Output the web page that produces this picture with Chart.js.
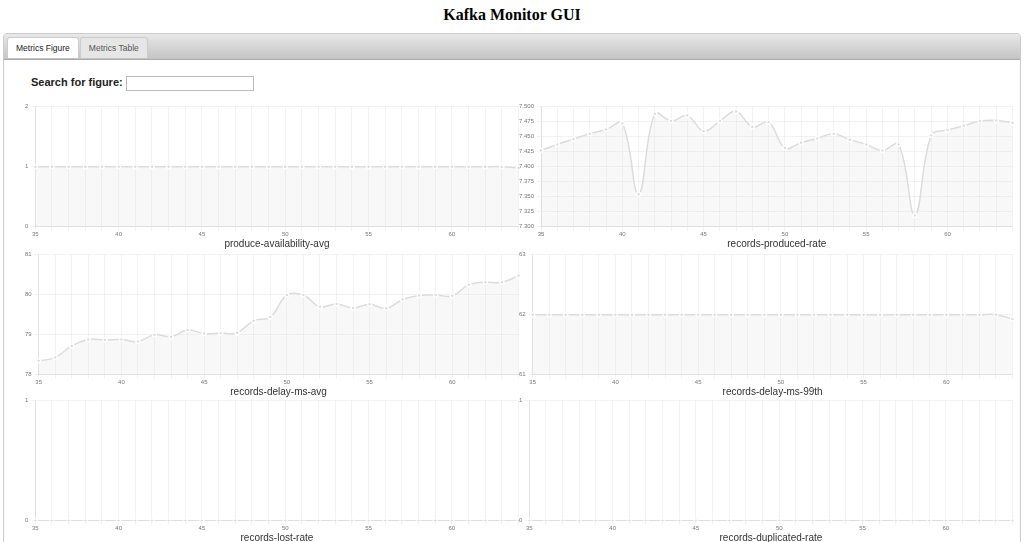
<!DOCTYPE html>
<html>
<head>
<meta charset="utf-8">
<script src="https://cdn.jsdelivr.net/npm/chart.js@4"></script>
<style>
  body { margin: 0; background: #fff; font-family: "Liberation Sans", Arial, sans-serif; }
  h1 { font-family: "Liberation Serif", serif; font-size: 16px; text-align: center; margin: 0; padding-top: 6px; height: 26px; }
  #panel { position: absolute; left: 3px; top: 33px; width: 1016px; height: 520px; border: 1px solid #ccc; border-radius: 4px; }
  #tabbar { height: 22px; background: linear-gradient(#e8e8e8, #c4c4c4); border-bottom: 1px solid #aaa; border-radius: 3px 3px 0 0; padding: 3px 0 0 3px; }
  .tab { display: inline-block; font-size: 8.5px; padding: 5px 8px 5px; margin-right: 1px; border: 1px solid #ccc; border-bottom: none; border-radius: 3px 3px 0 0; background: #e6e6e6; color: #555; }
  .tab.active { background: #fff; color: #222; }
  #search { position: absolute; left: 27px; top: 42px; font-weight: bold; font-size: 11px; color: #222; }
  #search input { width: 122px; height: 11px; border: 1px solid #bbb; vertical-align: middle; }
  .box { position: absolute; width: 502px; height: 150px; }
</style>
</head>
<body>
<h1>Kafka Monitor GUI</h1>
<div id="panel">
  <div id="tabbar"><span class="tab active">Metrics Figure</span><span class="tab">Metrics Table</span></div>
  <div id="search">Search for figure: <input type="text"></div>
</div>
<div class="box" style="left:22px;top:100px"><canvas id="c0"></canvas></div>
<div class="box" style="left:516px;top:100px"><canvas id="c1"></canvas></div>
<div class="box" style="left:22px;top:248px"><canvas id="c2"></canvas></div>
<div class="box" style="left:516px;top:248px"><canvas id="c3"></canvas></div>
<div class="box" style="left:22px;top:394px"><canvas id="c4"></canvas></div>
<div class="box" style="left:516px;top:394px"><canvas id="c5"></canvas></div>
<script>
const xLabels = [35,36,37,38,39,40,41,42,43,44,45,46,47,48,49,50,51,52,53,54,55,56,57,58,59,60,61,62,63,64];

const availability = [1,1,1,1,1,1,1,1,1,1,1,1,1,1,1,1,1,1,1,1,1,1,1,1,1,1,1,1,1,0.98];
const producedRate = [7.427,7.437,7.446,7.455,7.462,7.472,7.354,7.488,7.476,7.485,7.459,7.476,7.492,7.466,7.474,
                      7.431,7.440,7.447,7.455,7.445,7.437,7.427,7.437,7.319,7.452,7.461,7.468,7.476,7.477,7.473];
const delayAvg = [78.35,78.43,78.72,78.88,78.87,78.88,78.83,79.0,78.95,79.12,79.03,79.04,79.05,79.35,79.44,
                  79.99,79.99,79.70,79.77,79.67,79.76,79.66,79.88,79.98,79.99,79.97,80.25,80.31,80.31,80.47];
const delay99 = [62,62,62,62,62,62,62,62,62,62,62,62,62,62,62,62,62,62,62,62,62,62,62,62,62,62,62,62,62,61.93];
const lostRate = new Array(30).fill(0);
const duplicatedRate = new Array(30).fill(0);

const charts = [
  { id: 'c0', title: 'produce-availability-avg', data: availability, min: 0, max: 2, step: 1 },
  { id: 'c1', title: 'records-produced-rate', data: producedRate, min: 7.3, max: 7.5, step: 0.025, dec: 3 },
  { id: 'c2', title: 'records-delay-ms-avg', data: delayAvg, min: 78, max: 81, step: 1 },
  { id: 'c3', title: 'records-delay-ms-99th', data: delay99, min: 61, max: 63, step: 1 },
  { id: 'c4', title: 'records-lost-rate', data: lostRate, min: 0, max: 1, step: 1 },
  { id: 'c5', title: 'records-duplicated-rate', data: duplicatedRate, min: 0, max: 1, step: 1 }
];

charts.forEach(c => {
  new Chart(document.getElementById(c.id), {
    type: 'line',
    data: {
      labels: xLabels,
      datasets: [{
        data: c.data,
        borderColor: 'rgba(220,220,220,1)',
        backgroundColor: 'rgba(220,220,220,0.2)',
        pointBackgroundColor: 'rgba(220,220,220,1)',
        pointBorderColor: '#fff',
        pointRadius: 2,
        borderWidth: 1.5,
        fill: true,
        tension: 0.4
      }]
    },
    options: {
      responsive: true,
      maintainAspectRatio: false,
      animation: false,
      layout: { padding: { top: 4, right: 2 } },
      plugins: { legend: { display: false }, tooltip: { enabled: false } },
      scales: {
        x: {
          grid: { color: 'rgba(0,0,0,0.05)', tickLength: 4 },
          border: { color: 'rgba(0,0,0,0.08)' },
          ticks: {
            color: '#777', font: { size: 6 }, maxRotation: 0, autoSkip: false, padding: 0,
            callback: (v, i) => xLabels[i] % 5 === 0 ? String(xLabels[i]) : ''
          },
          title: { display: true, text: c.title, color: '#333', font: { size: 10 }, padding: 0 }
        },
        y: {
          min: c.min, max: c.max,
          grid: { color: 'rgba(0,0,0,0.05)', tickLength: 4 },
          border: { color: 'rgba(0,0,0,0.08)' },
          ticks: {
            color: '#777', font: { size: 6 }, stepSize: c.step,
            callback: v => c.dec ? v.toFixed(c.dec) : v
          }
        }
      }
    }
  });
});
</script>
</body>
</html>
